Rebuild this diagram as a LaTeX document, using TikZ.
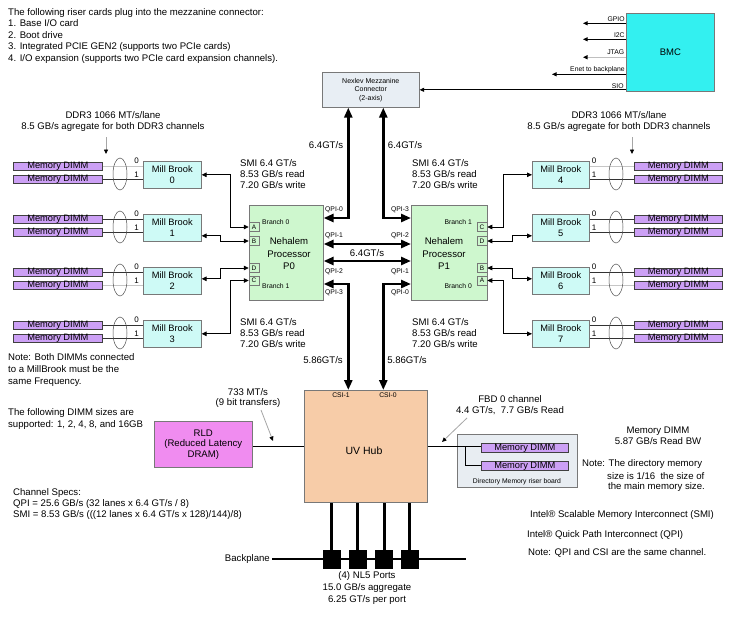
\documentclass[tikz,border=0pt]{standalone}
\usepackage{fontspec}
\setmainfont{Liberation Sans}
\usetikzlibrary{arrows.meta,calc}
\definecolor{bmcc}{RGB}{51,240,240}
\definecolor{mezzc}{RGB}{232,238,244}
\definecolor{procc}{RGB}{206,247,206}
\definecolor{mbc}{RGB}{206,250,246}
\definecolor{dimmc}{RGB}{204,160,245}
\definecolor{rldc}{RGB}{240,140,240}
\definecolor{hubc}{RGB}{247,204,168}
\definecolor{riserc}{RGB}{232,237,242}
\definecolor{boxline}{RGB}{120,120,120}
\begin{document}
\begin{tikzpicture}[x=1pt,y=-1pt,
  txt/.style={inner sep=0pt,font=\fontsize{9.6}{11}\selectfont},
  tiny/.style={inner sep=0pt,font=\fontsize{6.8}{7}\selectfont},
  lbl/.style={inner sep=0pt,font=\fontsize{8}{8}\selectfont},
  box/.style={draw=boxline,line width=0.6pt,inner sep=0pt,anchor=north west},
  dimm/.style={draw=black!75,line width=0.6pt,fill=dimmc,minimum width=89pt,minimum height=8pt,inner sep=0pt,anchor=north west,font=\fontsize{9.3}{9}\selectfont},
  mbx/.style={box,fill=mbc,minimum width=58pt,minimum height=27pt,align=center,font=\fontsize{9.3}{11}\selectfont},
  lt/.style={draw=boxline,line width=0.5pt,fill=procc,minimum width=10pt,minimum height=9pt,inner sep=0pt,font=\fontsize{6.5}{6.5}\selectfont},
  gline/.style={line width=1.6pt,draw=gray!45},
  bline/.style={line width=0.7pt,draw=black!80},
  ell/.style={line width=0.5pt,draw=black!70},
  tarr/.style={line width=0.8pt,{Triangle[length=5pt,width=4.5pt]}-{Triangle[length=5pt,width=4.5pt]}},
  sarr/.style={line width=0.7pt,-{Triangle[length=4.5pt,width=4pt]}},
  garr/.style={line width=0.8pt,draw=gray!70,-{Triangle[length=4.5pt,width=4pt,color=black]}},
  big/.style={line width=2.6pt,{Triangle[length=10pt,width=8pt]}-{Triangle[length=10pt,width=8pt]}}
]
\useasboundingbox[fill=white] (0,0) rectangle (733,616);

% ---- top-left text
\node[txt,font=\fontsize{9.6}{11.5}\selectfont,anchor=west,align=left] (intro) at (8,36) {The following riser cards plug into the mezzanine connector:\\1. Base I/O card\\2. Boot drive\\3. Integrated PCIE GEN2 (supports two PCIe cards)\\4. I/O expansion (supports two PCIe card expansion channels).};

% ---- BMC
\node[box,fill=bmcc,minimum width=88pt,minimum height=78pt,font=\fontsize{9.5}{10}\selectfont] (bmc) at (626,13) {BMC};
\node[box,fill=mezzc,minimum width=97pt,minimum height=35pt,align=center,font=\fontsize{7}{8.5}\selectfont] (mezz) at (322,72) {Nexlev Mezzanine\\Connector\\(2-axis)};

\draw[sarr] ([yshift=29pt]bmc.west) -- ++(-43,0) node[tiny,pos=0,anchor=south east,yshift=1pt,xshift=-1pt] {GPIO};
\draw[sarr] ([yshift=13pt]bmc.west) -- ++(-43,0) node[tiny,pos=0,anchor=south east,yshift=1pt,xshift=-1pt] {I2C};
\draw[line width=1.6pt,draw=gray!50,-{Triangle[length=4.5pt,width=4pt,color=black]}] ([yshift=-5pt]bmc.west) -- ++(-43,0) node[tiny,pos=0,anchor=south east,yshift=1.5pt,xshift=-1pt] {JTAG};
\draw[sarr] ([yshift=-22pt]bmc.west) -- ++(-74,0) node[tiny,pos=0,anchor=south east,yshift=1pt,xshift=-1pt] {Enet to backplane};
\draw[sarr] (mezz.east -| bmc.west) -- (mezz.east) node[tiny,pos=0,anchor=south east,yshift=1pt,xshift=-2pt] {SIO};

% ---- processors
\node[box,fill=procc,minimum width=74pt,minimum height=95pt] (p0) at (249,205) {};
\node[box,fill=procc,minimum width=76pt,minimum height=95pt] (p1) at (411,205) {};
\node[inner sep=0pt,align=center,font=\fontsize{9.6}{12.5}\selectfont] (p0t) at (289,254) {Nehalem\\Processor\\P0};
\node[inner sep=0pt,align=center,font=\fontsize{9.6}{12.5}\selectfont] (p1t) at (444,254) {Nehalem\\Processor\\P1};

\node[lt] (pA) at (254,227) {A};
\node[lt] (pB) at (254,241) {B};
\node[lt] (pD) at (254,268) {D};
\node[lt] (pC) at (254,280.5) {C};
\node[lt] (qC) at (482,227) {C};
\node[lt] (qD) at (482,241) {D};
\node[lt] (qB) at (482,268) {B};
\node[lt] (qA) at (482,280.5) {A};
\node[tiny,anchor=west] at (262,222.5) {Branch 0};
\node[tiny,anchor=west] at (262,286) {Branch 1};
\node[tiny,anchor=east] at (472,222.5) {Branch 1};
\node[tiny,anchor=east] at (472,286) {Branch 0};

\node[tiny,anchor=west] at (325,210) {QPI-0};
\node[tiny,anchor=west] at (325,235.5) {QPI-1};
\node[tiny,anchor=west] at (325,271.5) {QPI-2};
\node[tiny,anchor=west] at (325,293) {QPI-3};
\node[tiny,anchor=east] at (409,210) {QPI-3};
\node[tiny,anchor=east] at (409,235.5) {QPI-2};
\node[tiny,anchor=east] at (409,271.5) {QPI-1};
\node[tiny,anchor=east] at (409,293) {QPI-0};

% ---- hub
\node[box,fill=hubc,minimum width=123pt,minimum height=112pt] (hub) at (304,390) {};
\node[inner sep=0pt,font=\fontsize{10.5}{11}\selectfont] at (364,451) {UV Hub};
\node[tiny] at (341,395.5) {CSI-1};
\node[tiny] at (388,395.5) {CSI-0};

% ---- big QPI arrows
\draw[big] ([xshift=-22.5pt]mezz.south) |- ([yshift=-13pt]p0.north east);
\draw[big] ([xshift=12.5pt]mezz.south) |- ([yshift=-13pt]p1.north west);
\draw[big] ([yshift=-39pt]p0.north east) -- ([yshift=-39pt]p1.north west);
\draw[big] ([yshift=-56pt]p0.north east) -- ([yshift=-56pt]p1.north west);
\draw[big] ([yshift=-79pt]p0.north east) -| ([xshift=-17.5pt]hub.north);
\draw[big] ([yshift=-79pt]p1.north west) -| ([xshift=17.5pt]hub.north);
\node[txt] at (326,145) {6.4GT/s};
\node[txt] at (405,145) {6.4GT/s};
\node[txt] at (367,253) {6.4GT/s};
\node[txt] at (323,360) {5.86GT/s};
\node[txt] at (407,360) {5.86GT/s};

% ---- left memory rows
\foreach \r/\sa/\sb in {0/gline/bline,1/bline/bline,2/bline/gline,3/bline/bline}{
  \pgfmathsetmacro\T{161+53*\r}
  \node[mbx] (mb\r) at (143,\T) {Mill Brook\\\r};
  \node[dimm] (dla\r) at (13,\T+1) {Memory DIMM};
  \node[dimm] (dlb\r) at (13,\T+14) {Memory DIMM};
  \draw[\sa] (dla\r.east) -- (dla\r.east -| mb\r.west);
  \draw[\sb] (dlb\r.east) -- (dlb\r.east -| mb\r.west);
  \draw[ell] (120,\T+13) ellipse [x radius=7, y radius=16];
  \node[lbl] at (136.5,\T) {0};
  \node[lbl] at (136.5,\T+13.5) {1};
}
% ---- right memory rows
\foreach \r/\n/\sa/\sb in {0/4/gline/bline,1/5/bline/bline,2/6/bline/gline,3/7/bline/bline}{
  \pgfmathsetmacro\T{161+53*\r}
  \node[mbx,minimum width=57pt] (mb\n) at (532,\T) {Mill Brook\\\n};
  \node[dimm,minimum width=88pt] (dra\n) at (634,\T+1) {Memory DIMM};
  \node[dimm,minimum width=88pt] (drb\n) at (634,\T+14) {Memory DIMM};
  \draw[\sa] (dra\n.west -| mb\n.east) -- (dra\n.west);
  \draw[\sb] (drb\n.west -| mb\n.east) -- (drb\n.west);
  \draw[ell] (616,\T+13) ellipse [x radius=7, y radius=16];
  \node[lbl] at (594,\T) {0};
  \node[lbl] at (594,\T+13.5) {1};
}

% ---- SMI links
\draw[tarr] (mb0.east) -- ++(29,0) |- (pA.west);
\draw[tarr] ([yshift=-8pt]mb1.east) -- ++(19,0) |- (pB.west);
\draw[tarr] ([yshift=2pt]mb2.east) -- ++(19,0) |- (pD.west);
\draw[tarr] (mb3.east) -- ++(29,0) |- (pC.west);
\draw[tarr] (mb4.west) -- ++(-29,0) |- (qC.east);
\draw[tarr] ([yshift=-8pt]mb5.west) -- ++(-20,0) |- (qD.east);
\draw[tarr] ([yshift=2pt]mb6.west) -- ++(-20,0) |- (qB.east);
\draw[tarr] (mb7.west) -- ++(-29,0) |- (qA.east);

\node[txt,anchor=west,align=left] at (240,174.5) {SMI 6.4 GT/s\\8.53 GB/s read\\7.20 GB/s write};
\node[txt,anchor=west,align=left] at (240,333) {SMI 6.4 GT/s\\8.53 GB/s read\\7.20 GB/s write};
\node[txt,anchor=west,align=left] at (412,174.5) {SMI 6.4 GT/s\\8.53 GB/s read\\7.20 GB/s write};
\node[txt,anchor=west,align=left] at (412,333) {SMI 6.4 GT/s\\8.53 GB/s read\\7.20 GB/s write};

% ---- DDR3 labels
\node[txt,align=center] (ddrl) at (113,122) {DDR3 1066 MT/s/lane\\8.5 GB/s agregate for both DDR3 channels};
\node[txt,align=center] (ddrr) at (619,122) {DDR3 1066 MT/s/lane\\8.5 GB/s agregate for both DDR3 channels};
\coordinate (al1) at (106,137); \coordinate (al2) at (106,154);
\coordinate (ar1) at (632,137); \coordinate (ar2) at (632,154);
\draw[garr] (al1) -- (al2);
\draw[garr] (ar1) -- (ar2);

% ---- left notes
\node[txt,font=\fontsize{9.6}{12}\selectfont,anchor=west,align=left] at (8,370) {Note: Both DIMMs connected\\to a MillBrook must be the\\same Frequency.};
\node[txt,font=\fontsize{9.6}{11.5}\selectfont,anchor=west,align=left] at (8,419) {The following DIMM sizes are\\supported: 1, 2, 4, 8, and 16GB};
\node[txt,anchor=west,align=left] at (13,504) {Channel Specs:\\QPI = 25.6 GB/s (32 lanes x 6.4 GT/s / 8)\\SMI = 8.53 GB/s (((12 lanes x 6.4 GT/s x 128)/144)/8)};

% ---- RLD
\node[box,fill=rldc,minimum width=98pt,minimum height=46pt,align=center,font=\fontsize{9.6}{10.5}\selectfont] (rld) at (154,421) {RLD\\(Reduced Latency\\DRAM)};
\draw[line width=0.8pt] (hub.west) -- (hub.west -| rld.east);
\node[txt,font=\fontsize{9.6}{10.5}\selectfont,align=center] at (248,398) {733 MT/s\\(9 bit transfers)};
\coordinate (rla) at (261,410); \coordinate (rlb) at (273,441);
\draw[garr] (rla) -- (rlb);

% ---- directory memory riser
\node[box,fill=riserc,minimum width=120pt,minimum height=53pt] (riser) at (457,434) {};
\node[dimm,minimum width=87pt,minimum height=9pt] (dd1) at (481,443) {Memory DIMM};
\node[dimm,minimum width=87pt,minimum height=9pt] (dd2) at (481,461) {Memory DIMM};
\node[tiny] at (517,482) {Directory Memory riser board};
\coordinate (br) at (465,446);
\draw[line width=0.8pt] (hub.east) -- (hub.east -| dd1.west);
\draw[line width=0.8pt] (br) |- (dd2.west);
\node[txt,align=center] at (510,405) {FBD 0 channel\\4.4 GT/s,\ \ 7.7 GB/s Read};
\coordinate (fa) at (467,418); \coordinate (fb) at (442,442);
\draw[garr] (fa) -- (fb);

% ---- right notes
\node[txt,align=center] at (658,435.5) {Memory DIMM\\5.87 GB/s Read BW};
\node[txt,anchor=west] at (582,464) {Note: The directory memory};
\node[txt,anchor=west] at (607,476) {size is 1/16\ \ the size of};
\node[txt,anchor=west] at (608,487.5) {the main memory size.};
\node[txt,anchor=west] at (530,515) {Intel® Scalable Memory Interconnect (SMI)};
\node[txt,anchor=west] at (527,535) {Intel® Quick Path Interconnect (QPI)};
\node[txt,anchor=west] at (528,553) {Note: QPI and CSI are the same channel.};

% ---- backplane
\coordinate (bpa) at (272,559); \coordinate (bpb) at (466,559);
\draw[line width=1.2pt] (bpa) -- (bpb);
\node[txt,anchor=east] at (270,559) {Backplane};
\foreach \i/\x in {1/331.5,2/357.5,3/384,4/409.5}{
  \node[fill=black,minimum width=18pt,minimum height=19pt,inner sep=0pt] (nl\i) at (\x,559.5) {};
  \draw[line width=3pt] (nl\i.north) -- (nl\i.north |- hub.south);
}
\node[txt,font=\fontsize{9.6}{12}\selectfont,align=center] at (367,588) {(4) NL5 Ports\\15.0 GB/s aggregate\\6.25 GT/s per port};
\end{tikzpicture}
\end{document}
